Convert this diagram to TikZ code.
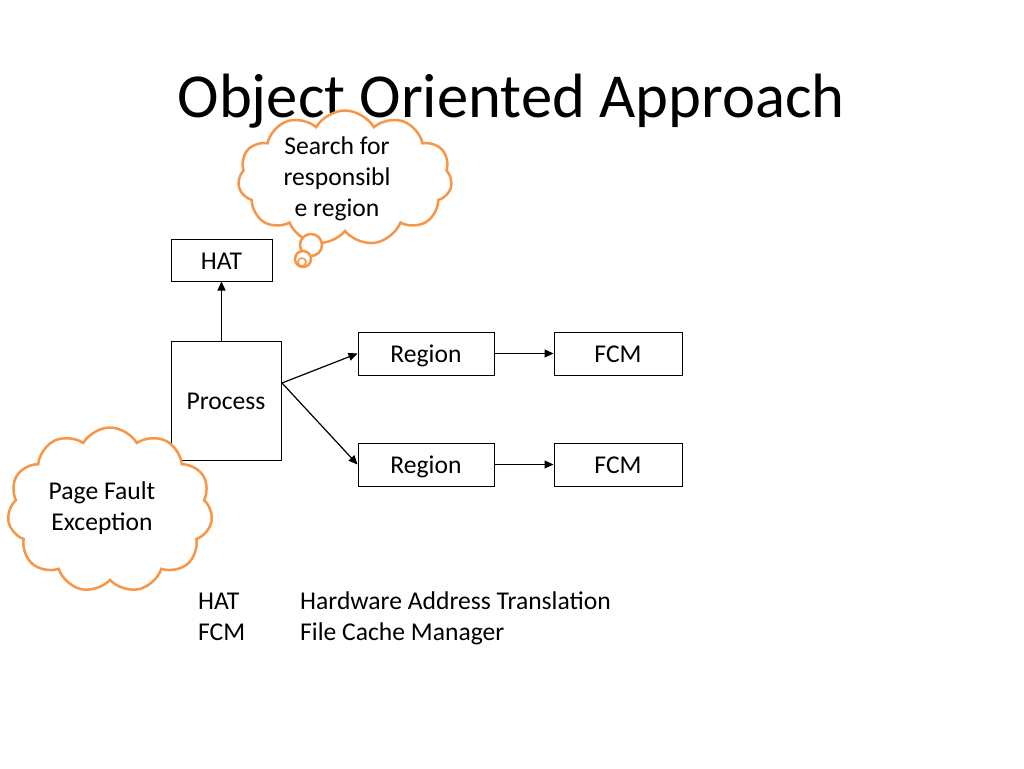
\documentclass[tikz,border=0pt]{standalone}
\usepackage{fontspec}
\setmainfont{Carlito}
\usetikzlibrary{arrows.meta,shapes.symbols}
\definecolor{cloudorange}{HTML}{F79646}
\begin{document}
\begin{tikzpicture}[x=1pt,y=-1pt,
  box/.style={draw=black,line width=1pt,fill=white,inner sep=0pt,text height=18pt,text depth=0pt,font=\fontsize{25.6}{31}\selectfont},
  lbl/.style={inner sep=0pt,font=\fontsize{25.6}{31}\selectfont,align=center},
  arr/.style={line width=1.2pt,-{Triangle[length=9pt,width=8pt]}},
  cloudy/.style={cloud,draw=cloudorange,line width=2.5pt,fill=white,cloud puffs=11,cloud puff arc=120,inner sep=0pt},
  bub/.style={circle,draw=cloudorange,line width=2.5pt,fill=white,inner sep=0pt}]
\useasboundingbox (0,0) rectangle (1024,768);
\node[inner sep=0pt,anchor=base,font=\fontsize{62.6}{70}\selectfont] (title) at (511,117) {Object Oriented Approach};
% boxes
\node[box,minimum width=101pt,minimum height=42pt] (hat) at (221.5,260) {HAT};
\node[box,minimum width=110pt,minimum height=119pt] (proc) at (226,400.5) {Process};
\node[box,minimum width=136pt,minimum height=43pt] (r1) at (426,353.5) {Region};
\node[box,minimum width=136pt,minimum height=43pt] (r2) at (426,464.5) {Region};
\node[box,minimum width=128pt,minimum height=43pt] (f1) at (618,353.5) {FCM};
\node[box,minimum width=128pt,minimum height=43pt] (f2) at (618,464.5) {FCM};
\coordinate (pr) at (282,383);
\draw[arr] (hat.south |- proc.north) -- (hat.south);
\draw[arr] (pr) -- (r1.west);
\draw[arr] (pr) -- (r2.west);
\draw[arr] (r1.east) -- (f1.west);
\draw[arr] (r2.east) -- (f2.west);
% thought cloud
\node[cloudy,minimum width=214pt,minimum height=135pt] (c1) at (345,178) {};
\node[bub,minimum size=22pt] (b1) at (311,245) {};
\node[bub,minimum size=16pt] (b2) at (303,259) {};
\node[bub,minimum size=8pt,line width=1.5pt] (b3) at (302,262) {};
\node[lbl] (c1t) at (337,179) {Search for\\responsibl\\e region};
% page fault cloud
\node[cloudy,minimum width=205pt,minimum height=165pt] (c2) at (110,510) {};
\node[lbl] (c2t) at (102,508) {Page Fault\\Exception};
% legend
\node[lbl,anchor=base west] (l1) at (198,609) {HAT};
\node[lbl,anchor=base west] (l1d) at (300,609) {Hardware Address Translation};
\node[lbl,anchor=base west] (l2) at (198,640) {FCM};
\node[lbl,anchor=base west] (l2d) at (300,640) {File Cache Manager};
\end{tikzpicture}
\end{document}
